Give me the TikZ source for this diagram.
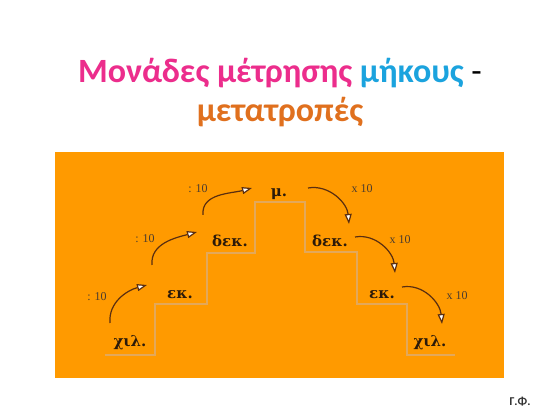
\documentclass[tikz,border=0pt]{standalone}
\usepackage{fontspec}
\setmainfont{Liberation Serif}
\newfontfamily\titlefont{Carlito}
\newfontfamily\unitfont{DejaVu Serif}
\usetikzlibrary{arrows.meta}
\definecolor{bgorange}{HTML}{FF9A00}
\definecolor{stairc}{HTML}{E3A85A}
\definecolor{arrc}{HTML}{5A2E10}
\definecolor{txtc}{HTML}{2B1A0A}
\definecolor{tpink}{HTML}{EC2D8C}
\definecolor{tblue}{HTML}{1BA3DE}
\definecolor{torange}{HTML}{E0701E}
\tikzset{
  unit/.style={font=\unitfont\bfseries\fontsize{15}{17}\selectfont, text=txtc, inner sep=0pt},
  fac/.style={font=\fontsize{12}{14}\selectfont, text=txtc!85, inner sep=0pt},
  conv/.style={draw=arrc, line width=1.2pt, -{Triangle[length=10pt,width=7pt,fill=white]}},
}
\begin{document}
\begin{tikzpicture}[x=1pt,y=1pt]
\useasboundingbox (0,0) rectangle (560,420);
\fill[white] (0,0) rectangle (560,420);
% title
\node[anchor=base, font=\titlefont\fontsize{34}{38}\selectfont, inner sep=0pt] (t1) at (280,337)
  {\textbf{\textcolor{tpink}{Μονάδες μέτρησης} \textcolor{tblue}{μήκους}} \textcolor{black}{-}};
\node[anchor=base, font=\titlefont\bfseries\fontsize{34}{38}\selectfont, inner sep=0pt, text=torange] (t2) at (280,298) {μετατροπές};
% background panel
\fill[bgorange] (55,42) rectangle (504,268);
% stairs
\draw[stairc, line width=1.3pt] (105,65) -- (155,65) -- (155,116) -- (207,116) -- (207,167) -- (255,167) -- (255,218)
  -- (305,218) -- (305,168) -- (357,168) -- (357,116) -- (407,116) -- (407,65) -- (455,65);
% units
\node[unit] (kmL) at (130,77) {χιλ.};
\node[unit] (eL) at (180,125) {εκ.};
\node[unit] (dL) at (230,179) {δεκ.};
\node[unit] (m) at (279,226) {μ.};
\node[unit] (dR) at (330,179) {δεκ.};
\node[unit] (eR) at (382,125) {εκ.};
\node[unit] (kmR) at (430,77) {χιλ.};
% factors
\node[fac] (f1) at (97,123) {: 10};
\node[fac] (f2) at (145,181) {: 10};
\node[fac] (f3) at (198,231) {: 10};
\node[fac] (g1) at (362,231) {x 10};
\node[fac] (g2) at (400,180) {x 10};
\node[fac] (g3) at (457,124) {x 10};
% arrow ends
\coordinate (a1s) at (110,97);  \coordinate (a1e) at (147,135);
\coordinate (a2s) at (152,155); \coordinate (a2e) at (197,188);
\coordinate (a3s) at (203,205); \coordinate (a3e) at (252,232);
\coordinate (b1s) at (308,232); \coordinate (b1e) at (349,196);
\coordinate (b2s) at (355,183); \coordinate (b2e) at (395,147);
\coordinate (b3s) at (402,133); \coordinate (b3e) at (442,96);
\draw[conv] (a1s) to[out=95,in=195] (a1e);
\draw[conv] (a2s) to[out=95,in=195] (a2e);
\draw[conv] (a3s) to[out=95,in=195] (a3e);
\draw[conv] (b1s) to[out=10,in=95] (b1e);
\draw[conv] (b2s) to[out=10,in=95] (b2e);
\draw[conv] (b3s) to[out=10,in=95] (b3e);
% signature
\node[font=\titlefont\bfseries\fontsize{12}{14}\selectfont, text=black!80, inner sep=0pt] (sig) at (520,18) {Γ.Φ.};
\end{tikzpicture}
\end{document}
